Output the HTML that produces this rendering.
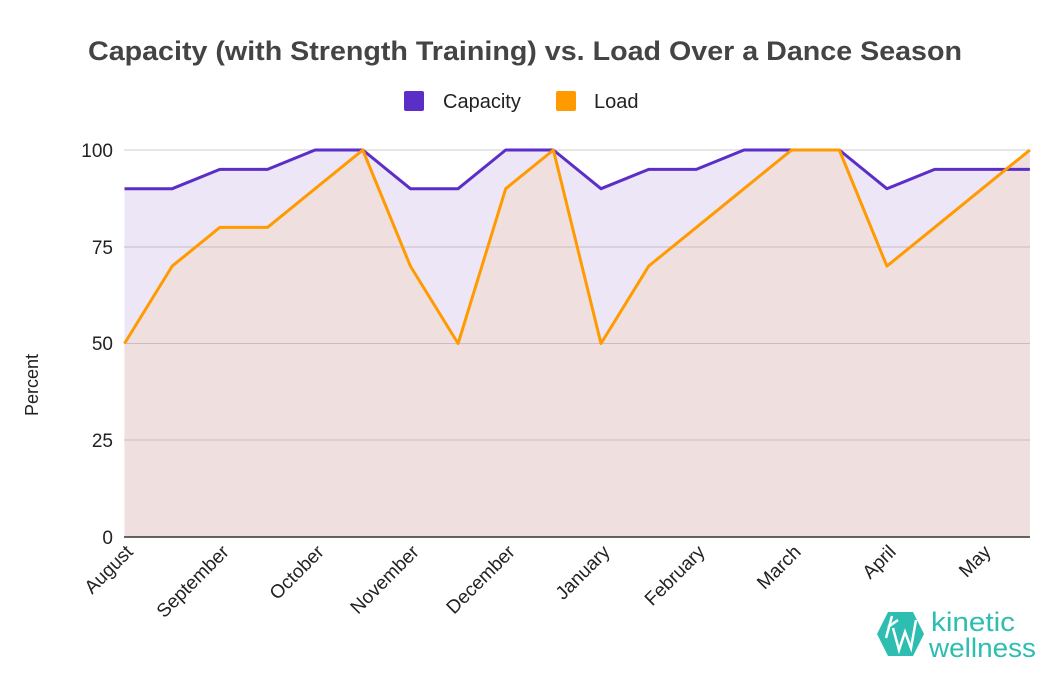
<!DOCTYPE html>
<html><head><meta charset="utf-8"><style>
body{margin:0;background:#fff;}
svg{display:block;font-family:"Liberation Sans",sans-serif;}
</style></head><body>
<svg width="1064" height="680" viewBox="0 0 1064 680">
<rect width="1064" height="680" fill="#fff"/>
<text x="525" y="60" text-anchor="middle" font-size="27" font-weight="bold" fill="#444" textLength="874" lengthAdjust="spacingAndGlyphs">Capacity (with Strength Training) vs. Load Over a Dance Season</text>
<rect x="404" y="91" width="20" height="20" rx="2" fill="#5b2ec7"/>
<text x="443" y="108" font-size="20" fill="#222">Capacity</text>
<rect x="556" y="91" width="20" height="20" rx="2" fill="#ff9b00"/>
<text x="594" y="108" font-size="20" fill="#222">Load</text>
<polygon fill="#ece6f6" points="124.5,537 124.5,188.7 172.2,188.7 219.8,169.35 267.5,169.35 315.1,150 362.8,150 410.4,188.7 458.1,188.7 505.7,150 553.4,150 601,188.7 648.7,169.35 696.3,169.35 744,150 791.6,150 839.3,150 886.9,188.7 934.6,169.35 982.2,169.35 1029.9,169.35 1029.9,537"/>
<polygon fill="#efdfdf" points="124.5,537 124.5,343.5 172.2,266.1 219.8,227.4 267.5,227.4 315.1,188.7 362.8,150 410.4,266.1 458.1,343.5 505.7,188.7 553.4,150 601,343.5 648.7,266.1 696.3,227.4 744,188.7 791.6,150 839.3,150 886.9,266.1 934.6,227.4 982.2,188.7 1029.9,150 1029.9,537"/>
<g stroke="#c9bcc4" stroke-width="1">
<line x1="124" y1="150" x2="1030" y2="150" stroke="#ccc"/>
<line x1="124" y1="247" x2="1030" y2="247"/>
<line x1="124" y1="343.5" x2="1030" y2="343.5"/>
<line x1="124" y1="440" x2="1030" y2="440"/>
</g>
<line x1="124" y1="537" x2="1030" y2="537" stroke="#333" stroke-width="1.5"/>
<g font-size="19" fill="#222" text-anchor="end">
<text x="113" y="157">100</text>
<text x="113" y="254">75</text>
<text x="113" y="350">50</text>
<text x="113" y="447">25</text>
<text x="113" y="544">0</text>
</g>
<text transform="translate(38,385) rotate(-90)" text-anchor="middle" font-size="18" fill="#222">Percent</text>
<polyline fill="none" stroke="#5b2ec7" stroke-width="3" stroke-linejoin="round" points="124.5,188.7 172.2,188.7 219.8,169.35 267.5,169.35 315.1,150 362.8,150 410.4,188.7 458.1,188.7 505.7,150 553.4,150 601,188.7 648.7,169.35 696.3,169.35 744,150 791.6,150 839.3,150 886.9,188.7 934.6,169.35 982.2,169.35 1029.9,169.35"/>
<polyline fill="none" stroke="#ff9b00" stroke-width="3" stroke-linejoin="round" points="124.5,343.5 172.2,266.1 219.8,227.4 267.5,227.4 315.1,188.7 362.8,150 410.4,266.1 458.1,343.5 505.7,188.7 553.4,150 601,343.5 648.7,266.1 696.3,227.4 744,188.7 791.6,150 839.3,150 886.9,266.1 934.6,227.4 982.2,188.7 1029.9,150"/>
<g font-size="19" fill="#222" text-anchor="end">
<text transform="translate(134,553) rotate(-45)">August</text>
<text transform="translate(230,553) rotate(-45)">September</text>
<text transform="translate(325,553) rotate(-45)">October</text>
<text transform="translate(420,553) rotate(-45)">November</text>
<text transform="translate(516,553) rotate(-45)">December</text>
<text transform="translate(611,553) rotate(-45)">January</text>
<text transform="translate(706,553) rotate(-45)">February</text>
<text transform="translate(802,553) rotate(-45)">March</text>
<text transform="translate(897,553) rotate(-45)">April</text>
<text transform="translate(992,553) rotate(-45)">May</text>
</g>
<polygon fill="#2dbdb1" points="888,612 913,612 924,634 913,656 888,656 877,634"/>
<path d="M886,638 L892,616 M888,627 L898,620 M893,628 L899,650 L905,632 L911,648 L916,620" fill="none" stroke="#fff" stroke-width="2.5"/>
<text x="931" y="631" font-size="27" fill="#2dbdb1" textLength="84" lengthAdjust="spacingAndGlyphs">kinetic</text>
<text x="929" y="657" font-size="27" fill="#2dbdb1" textLength="107" lengthAdjust="spacingAndGlyphs">wellness</text>
</svg>
</body></html>
